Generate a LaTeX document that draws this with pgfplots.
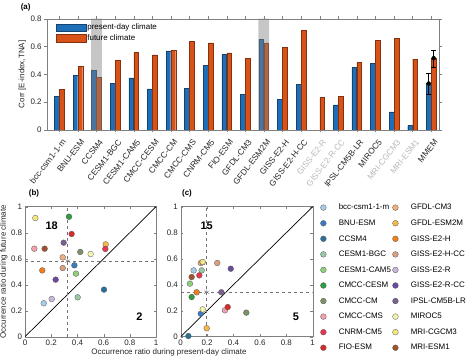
\documentclass[border=0pt]{standalone}
\usepackage{fontspec}
\setmainfont{Liberation Sans}
\usepackage{pgfplots}
\pgfplotsset{compat=1.18}
\definecolor{bblue}{HTML}{1F6FB8}
\definecolor{borange}{HTML}{D95319}
\definecolor{cbcc}{HTML}{A6CDE8}
\definecolor{cbnu}{HTML}{3A7BC0}
\definecolor{cccsm}{HTML}{2A7098}
\definecolor{cbgc}{HTML}{98C9A3}
\definecolor{ccam}{HTML}{8FD17A}
\definecolor{ccesm}{HTML}{2E9E3E}
\definecolor{ccm}{HTML}{7C9264}
\definecolor{ccms}{HTML}{F0A0A8}
\definecolor{ccnrm}{HTML}{E8344E}
\definecolor{cfio}{HTML}{D92A2A}
\definecolor{ccmt}{HTML}{F2B07E}
\definecolor{cesmm}{HTML}{F7B84A}
\definecolor{ceh}{HTML}{F07F1A}
\definecolor{cehcc}{HTML}{D9A080}
\definecolor{cer}{HTML}{C8B6DC}
\definecolor{cercc}{HTML}{6A4AA0}
\definecolor{cipsl}{HTML}{7A6090}
\definecolor{cmiroc}{HTML}{F4F4B0}
\definecolor{cmri}{HTML}{F6E680}
\definecolor{cmresm}{HTML}{A0522D}
\newcommand{\pt}[3]{\addplot[only marks, mark=*, mark size=2.9bp, mark options={fill=#1, draw=black!65, line width=0.3bp}] coordinates {(#2,#3)};}
\pgfplotsset{every axis/.append style={scale only axis,
  font=\fontsize{8}{9.6}\selectfont,
  axis line style={black!50}, tick style={black!50},
  /pgf/number format/assume math mode=true,
  tick label style={text=black!85}, label style={text=black!85}}}
\begin{document}
\fontsize{8}{9.6}\selectfont
\begin{tikzpicture}
\useasboundingbox (0bp,0bp) rectangle (474bp,363bp);
% ---------------- panel (a)
\begin{axis}[at={(47bp,233bp)}, anchor=south west, width=392bp, height=111.3bp,
  xmin=0.339, xmax=21.42, ymin=0, ymax=0.8,
  xtick={1,...,21},
  xticklabels={{bcc-csm1-1-m},{BNU-ESM},{CCSM4},{CESM1-BGC},{CESM1-CAM5},{CMCC-CESM},{CMCC-CM},{CMCC-CMS},{CNRM-CM5},{FIO-ESM},{GFDL-CM3},{GFDL-ESM2M},{GISS-E2-H},{GISS-E2-H-CC},{\textcolor{black!28}{GISS-E2-R}},{\textcolor{black!28}{GISS-E2-R-CC}},{IPSL-CM5B-LR},{MIROC5},{\textcolor{black!28}{MRI-CGCM3}},{\textcolor{black!28}{MRI-ESM1}},{MMEM}},
  xticklabel style={font=\fontsize{8.4}{10}\selectfont, xshift=4.9bp, yshift=-8bp, rotate=52, anchor=east, inner sep=0pt},
  ytick={0,0.2,0.4,0.6,0.8}, yticklabels={0,0.2,0.4,0.6,0.8},
  tick align=outside, major tick length=2.5bp, xtick pos=both, ytick pos=both,
  ylabel={Corr [E-index,TNA]}, ylabel style={yshift=-1bp},
  legend style={at={(0.0224,0.9636)}, anchor=north west, draw=none, fill=none,
     inner sep=0pt, outer sep=0pt,
     nodes={inner sep=1.2bp}, row sep=1.4bp},
  legend cell align=left,
  legend image code/.code={\draw[#1] (0bp,-3.6bp) rectangle (30bp,3.6bp);},
]
\addplot[ybar, bar width=4.7bp, bar shift=-2.5bp, fill=bblue, draw=bblue!60!black, line width=0.4bp]
 coordinates {(1,0.241) (2,0.394) (3,0.430) (4,0.337) (5,0.375) (6,0.296) (7,0.568) (8,0.300) (9,0.466) (10,0.542) (11,0.256) (12,0.650) (13,0.220) (14,0.327) (16,0.181) (17,0.451) (18,0.478) (19,0.131) (20,0.031) (21,0.334)};
\addlegendentry{present-day climate}
\addplot[ybar, bar width=4.7bp, bar shift=2.5bp, fill=borange, draw=borange!60!black, line width=0.4bp]
 coordinates {(1,0.294) (2,0.458) (3,0.380) (4,0.500) (5,0.556) (6,0.540) (7,0.575) (8,0.635) (9,0.626) (10,0.554) (11,0.516) (12,0.626) (13,0.592) (14,0.714) (15,0.234) (16,0.244) (17,0.485) (18,0.642) (19,0.657) (20,0.509) (21,0.516)};
\addlegendentry{future climate}
\addplot[ybar, bar width=10.7bp, bar shift=0bp, fill=gray, fill opacity=0.45, draw=none, forget plot]
 coordinates {(3,0.8) (12,0.8)};
\addplot[only marks, mark=none, black, forget plot,
  error bars/.cd, y dir=both, y explicit, error bar style={black, line width=0.5bp},
  error mark options={rotate=90, mark size=2.5bp, black, line width=0.5bp}]
 coordinates {(20.866,0.334) += (0,0.074) -= (0,0.076)};
\addplot[only marks, mark=none, black, forget plot,
  error bars/.cd, y dir=both, y explicit, error bar style={black, line width=0.5bp},
  error mark options={rotate=90, mark size=2.5bp, black, line width=0.5bp}]
 coordinates {(21.134,0.516) += (0,0.059) -= (0,0.062)};
\end{axis}
\node[font=\bfseries\fontsize{8}{9.6}\selectfont] at (25.7bp,355.5bp) {(a)};
% ---------------- panel (b)
\begin{axis}[at={(25bp,26.3bp)}, anchor=south west, width=131bp, height=130bp,
  xmin=0, xmax=1, ymin=0, ymax=1,
  xtick={0,0.2,0.4,0.6,0.8,1}, xticklabels={0,0.2,0.4,0.6,0.8,1},
  ytick={0,0.2,0.4,0.6,0.8,1}, yticklabels={0,0.2,0.4,0.6,0.8,1},
  tick align=inside, major tick length=2.5bp, xtick pos=both, ytick pos=both,
  ylabel={Occurrence ratio during future climate}, ylabel style={yshift=-2bp},
]
\addplot[black, line width=0.7bp, no marks] coordinates {(0,0) (1,1)};
\addplot[black!55, dashed, line width=0.7bp, no marks] coordinates {(0.326,0) (0.326,1)};
\addplot[black!55, dashed, line width=0.7bp, no marks] coordinates {(0,0.582) (1,0.582)};
\addplot[only marks, mark=asterisk, mark size=3bp, black!55] coordinates {(0.326,0.582)};
\pt{cmri}{0.079}{0.913}
\pt{ccesm}{0.336}{0.923}
\pt{cfio}{0.356}{0.790}
\pt{cipsl}{0.295}{0.723}
\pt{ccms}{0.071}{0.677}
\pt{cmresm}{0.150}{0.677}
\pt{ccm}{0.422}{0.652}
\pt{cmiroc}{0.501}{0.636}
\pt{cesmm}{0.616}{0.710}
\pt{ccnrm}{0.613}{0.675}
\pt{ccmt}{0.288}{0.610}
\pt{cbnu}{0.377}{0.549}
\pt{ceh}{0.132}{0.510}
\pt{cehcc}{0.288}{0.528}
\pt{ccam}{0.389}{0.485}
\pt{cercc}{0.234}{0.439}
\pt{cccsm}{0.603}{0.362}
\pt{cbgc}{0.402}{0.303}
\pt{cer}{0.204}{0.290}
\pt{cbcc}{0.143}{0.257}
\node[font=\bfseries\fontsize{11}{13}\selectfont] at (axis cs:0.204,0.854) {18};
\node[font=\bfseries\fontsize{11}{13}\selectfont] at (axis cs:0.873,0.154) {2};
\end{axis}
\node[font=\bfseries\fontsize{8}{9.6}\selectfont] at (34bp,170bp) {(b)};
% ---------------- panel (c)
\begin{axis}[at={(180.7bp,26.3bp)}, anchor=south west, width=132bp, height=130bp,
  xmin=0, xmax=1, ymin=0, ymax=1,
  xtick={0,0.2,0.4,0.6,0.8,1}, xticklabels={0,0.2,0.4,0.6,0.8,1},
  ytick={0,0.2,0.4,0.6,0.8,1}, yticklabels={0,0.2,0.4,0.6,0.8,1},
  tick align=inside, major tick length=2.5bp, xtick pos=both, ytick pos=both,
  legend columns=2, legend cell align=left,
  legend style={at={(1.059,1.0315)}, anchor=north west, draw=none, fill=none,
     inner sep=0pt, outer sep=0pt,
     nodes={inner sep=1.5bp}, row sep=5.8bp,
     /tikz/every odd column/.append style={column sep=11bp},
     /tikz/every even column/.append style={column sep=0bp}},
  legend image code/.code={\draw[mark repeat=2, mark phase=2, #1] plot coordinates {(0bp,0bp) (3bp,0bp) (6bp,0bp)};},
]
\addplot[black, line width=0.7bp, no marks, forget plot] coordinates {(0,0) (1,1)};
\addplot[black!55, dashed, line width=0.7bp, no marks, forget plot] coordinates {(0.197,0) (0.197,1)};
\addplot[black!55, dashed, line width=0.7bp, no marks, forget plot] coordinates {(0,0.342) (1,0.342)};
\addplot[only marks, mark=asterisk, mark size=3bp, black!55, forget plot] coordinates {(0.197,0.342)};
\pt{cbcc}{0.098}{0.510}   \addlegendentry{bcc-csm1-1-m}
\pt{ccmt}{0.152}{0.567}   \addlegendentry{GFDL-CM3}
\pt{cbnu}{0.152}{0.177}   \addlegendentry{BNU-ESM}
\pt{cesmm}{0.197}{0.065}  \addlegendentry{GFDL-ESM2M}
\pt{cccsm}{0.058}{0.005}  \addlegendentry{CCSM4}
\pt{ceh}{0.121}{0.342}    \addlegendentry{GISS-E2-H}
\pt{cbgc}{0.159}{0.510}   \addlegendentry{CESM1-BGC}
\pt{cehcc}{0.277}{0.567}  \addlegendentry{GISS-E2-H-CC}
\pt{ccam}{0.070}{0.408}   \addlegendentry{CESM1-CAM5}
\pt{cer}{0.165}{0.572}    \addlegendentry{GISS-E2-R}
\pt{ccesm}{0.083}{0.305}  \addlegendentry{CMCC-CESM}
\pt{cercc}{0.379}{0.523}  \addlegendentry{GISS-E2-R-CC}
\pt{ccm}{0.497}{0.185}    \addlegendentry{CMCC-CM}
\pt{cipsl}{0.308}{0.342}  \addlegendentry{IPSL-CM5B-LR}
\pt{ccms}{0.335}{0.203}   \addlegendentry{CMCC-CMS}
\pt{cmiroc}{0.167}{0.210} \addlegendentry{MIROC5}
\pt{ccnrm}{0.141}{0.472}  \addlegendentry{CNRM-CM5}
\pt{cmri}{0.167}{0.575}   \addlegendentry{MRI-CGCM3}
\pt{cfio}{0.356}{0.228}   \addlegendentry{FIO-ESM}
\pt{cmresm}{0.083}{0.459} \addlegendentry{MRI-ESM1}
\node[font=\bfseries\fontsize{11}{13}\selectfont] at (axis cs:0.197,0.854) {15};
\node[font=\bfseries\fontsize{11}{13}\selectfont] at (axis cs:0.873,0.154) {5};
\end{axis}
\node[font=\bfseries\fontsize{8}{9.6}\selectfont] at (187bp,170bp) {(c)};
\node[text=black!85] at (169bp,11bp) {Occurrence ratio during present-day climate};
\end{tikzpicture}
\end{document}
